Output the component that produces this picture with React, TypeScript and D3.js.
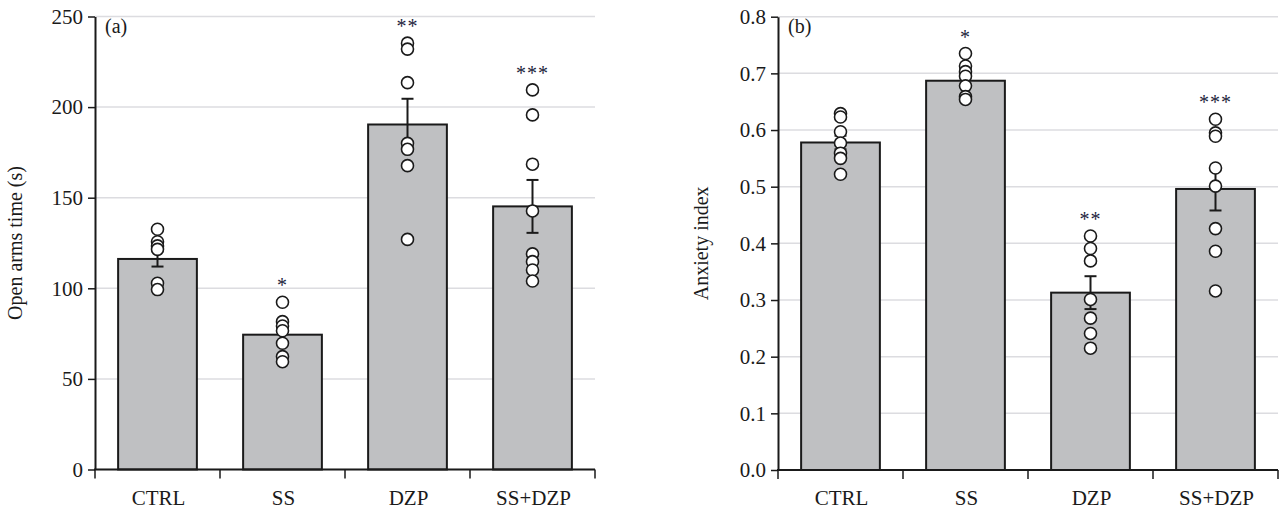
import React, { useEffect, useRef } from "react";
import * as d3 from "d3";

const groups = ["CTRL", "SS", "DZP", "SS+DZP"];

// panel (a) open arms time
const openMeans = [116.2, 74.4, 190.4, 145.2];
const openSem = [4.2, 4.5, 14.2, 14.6];
const openStars = ["", "*", "**", "***"];
const openPoints = [
  [132.6, 125.7, 123.4, 121.5, 102.8, 99.3],
  [92.3, 81.6, 79.2, 76.6, 69.7, 62.3, 59.5],
  [235.3, 232.0, 213.5, 180.0, 176.7, 167.7, 127.0],
  [209.5, 195.7, 168.5, 142.7, 119.0, 114.7, 110.1, 104.0],
];
const openTicks = [0, 50, 100, 150, 200, 250];

// panel (b) anxiety index
const anxMeans = [0.578, 0.687, 0.313, 0.496];
const anxSem = [0.012, 0.01, 0.029, 0.038];
const anxStars = ["", "*", "**", "***"];
const anxPoints = [
  [0.629, 0.623, 0.597, 0.577, 0.559, 0.55, 0.522],
  [0.735, 0.713, 0.703, 0.695, 0.678, 0.659, 0.654],
  [0.413, 0.391, 0.369, 0.301, 0.268, 0.241, 0.215],
  [0.619, 0.595, 0.589, 0.533, 0.501, 0.426, 0.386, 0.316],
];
const anxTicks = [0, 0.1, 0.2, 0.3, 0.4, 0.5, 0.6, 0.7, 0.8];

const FONT = "'Liberation Serif', 'Times New Roman', serif";

function drawPanel(g: any, opt: any) {
  const { left, right, top, bottom, yMax, ticks, fmt, means, sem, pts, stars, label, tag, labelX } = opt;
  const x = d3.scaleBand().domain(groups).range([left, right]).paddingInner(0.37).paddingOuter(0.185);
  const band = d3.scaleBand().domain(groups).range([left, right]);
  const y = d3.scaleLinear().domain([0, yMax]).range([bottom, top]);

  // grid
  g.selectAll(".grid").data(ticks).join("line")
    .attr("x1", left).attr("x2", right)
    .attr("y1", (d: number) => y(d)).attr("y2", (d: number) => y(d))
    .attr("stroke", "#dcdce0").attr("stroke-width", 1.5);

  // bars
  g.selectAll(".bar").data(groups).join("rect")
    .attr("x", (d: string) => x(d)!)
    .attr("width", x.bandwidth())
    .attr("y", (d: string, i: number) => y(means[i]))
    .attr("height", (d: string, i: number) => bottom - y(means[i]))
    .attr("fill", "#bfc0c2").attr("stroke", "#1a1a1a").attr("stroke-width", 2);

  // error bars
  groups.forEach((grp, i) => {
    const cx = x(grp)! + x.bandwidth() / 2;
    const lo = y(means[i] - sem[i]);
    const hi = y(means[i] + sem[i]);
    g.append("line").attr("x1", cx).attr("x2", cx).attr("y1", lo).attr("y2", hi)
      .attr("stroke", "#1a1a1a").attr("stroke-width", 2);
    [lo, hi].forEach((yy) => {
      g.append("line").attr("x1", cx - 6).attr("x2", cx + 6).attr("y1", yy).attr("y2", yy)
        .attr("stroke", "#1a1a1a").attr("stroke-width", 2);
    });
    // points
    g.append("g").selectAll("circle").data(pts[i]).join("circle")
      .attr("cx", cx).attr("cy", (d: number) => y(d)).attr("r", 6)
      .attr("fill", "white").attr("stroke", "#1a1a1a").attr("stroke-width", 1.6);
    if (stars[i]) {
      const maxV = d3.max(pts[i] as number[])!;
      g.append("text").attr("x", cx).attr("y", y(maxV) - 10)
        .attr("text-anchor", "middle").attr("font-family", FONT).attr("font-size", 20)
        .attr("fill", "#1c1c3c").attr("letter-spacing", 1).text(stars[i]);
    }
  });

  // y axis
  const yAxis = g.append("g").attr("transform", `translate(${left},0)`)
    .call(d3.axisLeft(y).tickValues(ticks).tickFormat(fmt).tickSize(7).tickSizeOuter(0));
  yAxis.select(".domain").attr("stroke", "#1a1a1a").attr("stroke-width", 2);
  yAxis.selectAll(".tick line").attr("stroke", "#1a1a1a").attr("stroke-width", 1.5);
  yAxis.selectAll(".tick text").attr("font-family", FONT).attr("font-size", 21).attr("fill", "#1a1a1a").attr("x", -12);

  // x axis
  const xAxis = g.append("g").attr("transform", `translate(0,${bottom})`);
  xAxis.append("line").attr("x1", left - 1).attr("x2", right).attr("y1", 0).attr("y2", 0)
    .attr("stroke", "#1a1a1a").attr("stroke-width", 2);
  const edges = groups.map((d) => band(d)!).concat([right]);
  xAxis.selectAll(".xt").data(edges).join("line")
    .attr("x1", (d: number) => d).attr("x2", (d: number) => d).attr("y1", 0).attr("y2", 9)
    .attr("stroke", "#1a1a1a").attr("stroke-width", 1.5);
  xAxis.selectAll(".xl").data(groups).join("text")
    .attr("x", (d: string) => band(d)! + band.bandwidth() / 2 + 1)
    .attr("y", 35).attr("text-anchor", "middle")
    .attr("font-family", FONT).attr("font-size", 21).attr("fill", "#1a1a1a").text((d: string) => d);

  g.append("text").attr("transform", `translate(${labelX},${(top + bottom) / 2}) rotate(-90)`)
    .attr("text-anchor", "middle").attr("font-family", FONT).attr("font-size", 20)
    .attr("fill", "#1a1a1a").text(label);

  g.append("text").attr("x", left + 10).attr("y", top + 16)
    .attr("font-family", FONT).attr("font-size", 20).attr("fill", "#1a1a1a").text(tag);
}

export default function App() {
  const ref = useRef<SVGSVGElement>(null);
  useEffect(() => {
    const svg = d3.select(ref.current);
    svg.selectAll("*").remove();
    drawPanel(svg.append("g"), {
      left: 95, right: 595, top: 16.5, bottom: 469.5, yMax: 250, ticks: openTicks,
      fmt: (d: number) => String(d), means: openMeans, sem: openSem, pts: openPoints,
      stars: openStars, label: "Open arms time (s)", tag: "(a)", labelX: 22,
    });
    drawPanel(svg.append("g"), {
      left: 778, right: 1278, top: 16.7, bottom: 470, yMax: 0.8, ticks: anxTicks,
      fmt: d3.format(".1f"), means: anxMeans, sem: anxSem, pts: anxPoints,
      stars: anxStars, label: "Anxiety index", tag: "(b)", labelX: 708,
    });
  }, []);
  return (
    <svg ref={ref} width={1288} height={516} style={{ position: "absolute", left: 0, top: 0, background: "white" }} />
  );
}
